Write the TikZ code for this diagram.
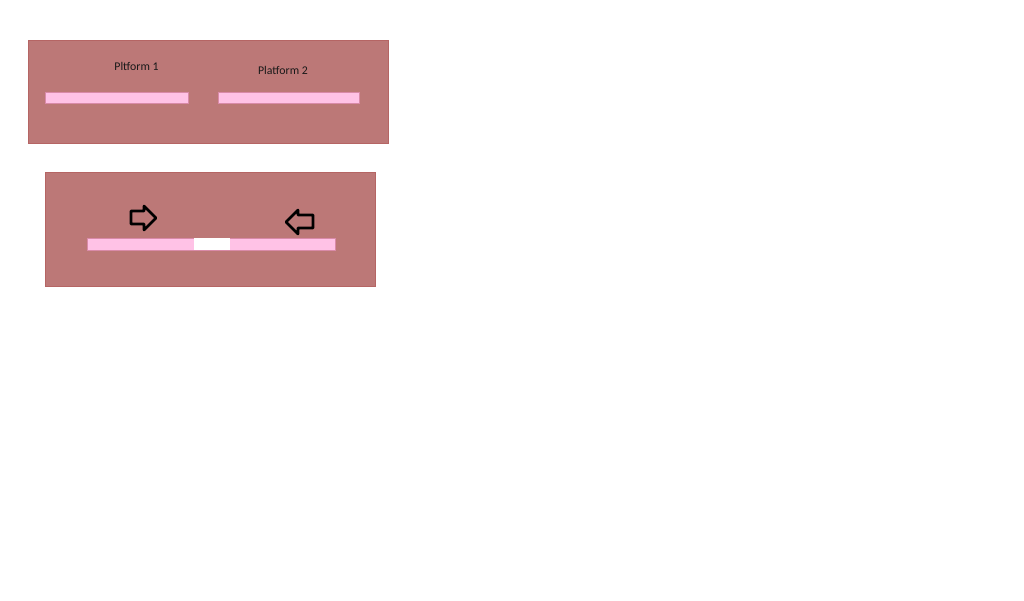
\documentclass[tikz,border=0pt]{standalone}
\usepackage{fontspec}
\setmainfont{Carlito}
\definecolor{panelbg}{HTML}{BC7877}
\definecolor{panelline}{HTML}{B56564}
\definecolor{barpink}{HTML}{FFC2E6}
\definecolor{barline}{HTML}{D98AA8}
\begin{document}
\begin{tikzpicture}[x=1pt,y=-1pt,
  panel/.style={fill=panelbg,draw=panelline,line width=0.7pt},
  bar/.style={fill=barpink,draw=barline,line width=0.5pt},
  gap/.style={fill=white},
  label/.style={font=\fontsize{11.8}{14}\selectfont,text=black!90,inner sep=0pt},
  arrowshape/.style={draw=black,line width=2.6pt,fill=panelbg,line join=round}]
\useasboundingbox[fill=white] (0,0) rectangle (1024,601);
% top panel
\draw[panel] (28,40) rectangle (388,143);
\draw[bar] (45,92) rectangle (188,103);
\draw[bar] (218,92) rectangle (359,103);
\node[label] (t1) at (136.5,66) {Pltform 1};
\node[label] (t2) at (283,70) {Platform 2};
% bottom panel
\draw[panel] (45,172) rectangle (375,286);
\draw[bar] (87,238) rectangle (335,250);
\fill[gap] (194,238.4) rectangle (230,249.6);
% right arrow
\draw[arrowshape] (131,211) -- (144,211) -- (144,206) -- (156,218) -- (144,230) -- (144,224) -- (131,224) -- cycle;
% left arrow
\draw[arrowshape] (313,215) -- (298,215) -- (298,210) -- (286,222) -- (298,234) -- (298,228) -- (313,228) -- cycle;
\end{tikzpicture}
\end{document}
